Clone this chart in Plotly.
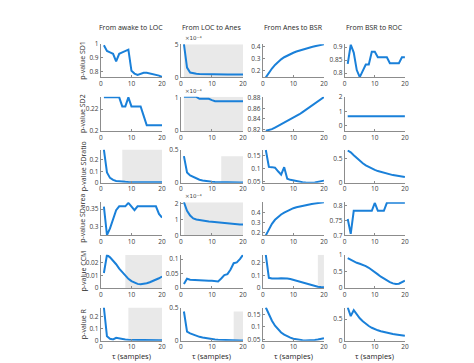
import plotly.graph_objects as go
from plotly.subplots import make_subplots

tau = list(range(1, 21))
x_ticks = [0, 10, 20]

col_titles = ["From awake to LOC", "From LOC to Anes", "From Anes to BSR", "From BSR to ROC"]
row_labels = ["p-value SD1", "p-value SD2", "p-value SDratio", "p-value SDarea", "p-value CCM", "p-value R"]
x_label = "τ (samples)"
exp_label = "×10⁻⁴"

# Row 1: SD1  (LOC->Anes values in units of 1e-4)
sd1_awake_loc = [0.993, 0.95, 0.94, 0.93, 0.875, 0.93, 0.94, 0.95, 0.96, 0.805, 0.785, 0.775, 0.785, 0.79, 0.79, 0.785, 0.78, 0.78, 0.77, 0.76]
sd1_loc_anes_e4 = [5.1, 1.5, 0.75, 0.6, 0.55, 0.52, 0.5, 0.48, 0.47, 0.46, 0.45, 0.44, 0.44, 0.44, 0.44, 0.45, 0.45, 0.45, 0.46, 0.46]
sd1_anes_bsr = [0.14, 0.18, 0.215, 0.245, 0.27, 0.292, 0.31, 0.325, 0.337, 0.348, 0.358, 0.367, 0.375, 0.383, 0.39, 0.397, 0.403, 0.409, 0.415, 0.42]
sd1_bsr_roc = [0.836, 0.909, 0.879, 0.812, 0.785, 0.806, 0.833, 0.833, 0.882, 0.882, 0.861, 0.861, 0.861, 0.861, 0.838, 0.838, 0.838, 0.838, 0.861, 0.861]

# Row 2: SD2
sd2_awake_loc = [0.2308, 0.2308, 0.2308, 0.2308, 0.2308, 0.2308, 0.2225, 0.2225, 0.2308, 0.2225, 0.2225, 0.2225, 0.2225, 0.2138, 0.2052, 0.2052, 0.2052, 0.2052, 0.2052, 0.2052]
sd2_loc_anes_e4 = [1.03, 1.03, 1.03, 1.03, 1.03, 0.97, 0.97, 0.97, 0.97, 0.93, 0.9, 0.9, 0.9, 0.9, 0.9, 0.9, 0.9, 0.9, 0.9, 0.9]
sd2_anes_bsr = [0.818, 0.819, 0.821, 0.824, 0.827, 0.83, 0.833, 0.836, 0.839, 0.842, 0.845, 0.849, 0.853, 0.857, 0.861, 0.865, 0.869, 0.873, 0.877, 0.881]
sd2_bsr_roc = [0.667] * 20

# Row 3: SDratio
sdratio_awake_loc = [0.29, 0.09, 0.042, 0.024, 0.015, 0.011, 0.009, 0.008, 0.007, 0.006, 0.006, 0.005, 0.005, 0.005, 0.005, 0.004, 0.004, 0.004, 0.004, 0.004]
sdratio_loc_anes = [0.40, 0.155, 0.11, 0.085, 0.062, 0.045, 0.033, 0.024, 0.018, 0.013, 0.01, 0.008, 0.006, 0.005, 0.004, 0.004, 0.003, 0.003, 0.003, 0.003]
sdratio_anes_bsr = [0.172, 0.107, 0.106, 0.104, 0.09, 0.077, 0.106, 0.061, 0.057, 0.054, 0.051, 0.049, 0.048, 0.047, 0.046, 0.046, 0.047, 0.049, 0.051, 0.054]
sdratio_bsr_roc = [0.68, 0.64, 0.58, 0.52, 0.46, 0.41, 0.365, 0.33, 0.30, 0.27, 0.245, 0.225, 0.205, 0.19, 0.175, 0.16, 0.15, 0.14, 0.13, 0.12]

# Row 4: SDarea  (LOC->Anes values in units of 1e-4)
sdarea_awake_loc = [0.357, 0.275, 0.294, 0.324, 0.347, 0.358, 0.358, 0.358, 0.368, 0.358, 0.347, 0.358, 0.358, 0.358, 0.358, 0.358, 0.358, 0.358, 0.336, 0.325]
sdarea_loc_anes_e4 = [2.1, 1.55, 1.25, 1.07, 1.0, 0.96, 0.92, 0.89, 0.87, 0.86, 0.84, 0.82, 0.79, 0.76, 0.73, 0.71, 0.7, 0.69, 0.69, 0.69]
sdarea_anes_bsr = [0.17, 0.235, 0.285, 0.325, 0.355, 0.378, 0.397, 0.413, 0.428, 0.44, 0.45, 0.458, 0.465, 0.472, 0.478, 0.483, 0.488, 0.492, 0.496, 0.5]
sdarea_bsr_roc = [0.755, 0.705, 0.783, 0.783, 0.783, 0.783, 0.783, 0.783, 0.783, 0.81, 0.783, 0.783, 0.783, 0.81, 0.81, 0.81, 0.81, 0.81, 0.81, 0.81]

# Row 5: CCM
ccm_awake_loc = [0.012, 0.0264, 0.0245, 0.022, 0.019, 0.0155, 0.0125, 0.0097, 0.0073, 0.0055, 0.0041, 0.0033, 0.003, 0.0032, 0.0038, 0.0046, 0.0055, 0.0066, 0.0078, 0.0092]
ccm_loc_anes = [0.0135, 0.032, 0.029, 0.028, 0.028, 0.027, 0.027, 0.026, 0.025, 0.025, 0.023, 0.023, 0.033, 0.045, 0.048, 0.064, 0.086, 0.089, 0.1, 0.115]
ccm_anes_bsr = [0.26, 0.08, 0.075, 0.073, 0.074, 0.076, 0.077, 0.075, 0.07, 0.063, 0.056, 0.05, 0.048, 0.04, 0.03, 0.022, 0.015, 0.01, 0.007, 0.006]
ccm_bsr_roc = [0.9, 0.85, 0.8, 0.76, 0.73, 0.7, 0.66, 0.61, 0.55, 0.48, 0.41, 0.34, 0.28, 0.23, 0.18, 0.14, 0.12, 0.13, 0.17, 0.22]

# Row 6: R
r_awake_loc = [0.28, 0.037, 0.016, 0.011, 0.024, 0.017, 0.012, 0.009, 0.007, 0.006, 0.005, 0.005, 0.004, 0.004, 0.004, 0.003, 0.003, 0.003, 0.003, 0.003]
r_loc_anes = [0.44, 0.135, 0.11, 0.09, 0.072, 0.058, 0.047, 0.038, 0.03, 0.023, 0.018, 0.014, 0.011, 0.009, 0.007, 0.006, 0.005, 0.005, 0.004, 0.004]
r_anes_bsr = [0.178, 0.15, 0.125, 0.105, 0.09, 0.078, 0.069, 0.062, 0.057, 0.053, 0.05, 0.048, 0.047, 0.046, 0.046, 0.047, 0.048, 0.05, 0.052, 0.055]
r_bsr_roc = [0.77, 0.57, 0.71, 0.6, 0.52, 0.45, 0.39, 0.34, 0.3, 0.265, 0.24, 0.22, 0.2, 0.185, 0.17, 0.155, 0.145, 0.135, 0.125, 0.115]

series = [
    [sd1_awake_loc, sd1_loc_anes_e4, sd1_anes_bsr, sd1_bsr_roc],
    [sd2_awake_loc, sd2_loc_anes_e4, sd2_anes_bsr, sd2_bsr_roc],
    [sdratio_awake_loc, sdratio_loc_anes, sdratio_anes_bsr, sdratio_bsr_roc],
    [sdarea_awake_loc, sdarea_loc_anes_e4, sdarea_anes_bsr, sdarea_bsr_roc],
    [ccm_awake_loc, ccm_loc_anes, ccm_anes_bsr, ccm_bsr_roc],
    [r_awake_loc, r_loc_anes, r_anes_bsr, r_bsr_roc],
]

y_ranges = [
    [[0.757, 1.0], [0, 5.1], [0.14, 0.42], [0.784, 0.911]],
    [[0.2, 0.2312], [0, 1.03], [0.8175, 0.8815], [-0.35, 2]],
    [[0, 0.29], [0, 0.5], [0.046, 0.174], [0, 0.7]],
    [[0.274, 0.37], [0, 2.1], [0.17, 0.5], [0.7, 0.812]],
    [[0, 0.0265], [0, 0.115], [0, 0.26], [0, 1.0]],
    [[0, 0.28], [0, 0.5], [0.045, 0.178], [0, 0.77]],
]
y_ticks = [
    [[0.8, 0.9, 1], [0, 5], [0.2, 0.3, 0.4], [0.8, 0.85, 0.9]],
    [[0.2, 0.22], [0, 1], [0.82, 0.84, 0.86, 0.88], [0, 1, 2]],
    [[0, 0.1, 0.2], [0, 0.5], [0.05, 0.1, 0.15], [0, 0.5]],
    [[0.3, 0.35], [0, 1, 2], [0.2, 0.3, 0.4], [0.7, 0.75, 0.8]],
    [[0, 0.01, 0.02], [0, 0.05, 0.1], [0, 0.1, 0.2], [0, 0.5, 1]],
    [[0, 0.1, 0.2], [0, 0.5], [0.05, 0.1, 0.15], [0, 0.5]],
]
# start of the shaded tau interval (None = no shading)
shade_start = [
    [None, 1, None, None],
    [None, 1, None, None],
    [7, 13, None, None],
    [None, 1, None, None],
    [8, None, 18, None],
    [9, 17, None, None],
]
exp_marks = [(0, 1), (1, 1), (3, 1)]

W, H = 474, 363
col_px = [(92, 154), (173, 236), (256, 318), (339, 400)]
row_px = [(32, 66), (86, 121), (140, 174), (194, 228), (248, 282), (302, 336)]

FONT = "Open Sans"
AX = "#8c8c8c"
TXT = "#404040"
BLUE = "#1a80d9"
SHADE = "#e9e9e9"

fig = make_subplots(rows=6, cols=4)

for r in range(6):
    for c in range(4):
        idx = r * 4 + c + 1
        vals = series[r][c]
        fig.add_trace(go.Scatter(x=tau, y=vals, mode="lines",
                                 line=dict(color=BLUE, width=2), showlegend=False),
                      row=r + 1, col=c + 1)
        xs = "" if idx == 1 else str(idx)
        if shade_start[r][c] is not None:
            fig.add_shape(type="rect", xref="x" + xs, yref="y" + xs,
                          x0=shade_start[r][c], x1=tau[-1], y0=0, y1=max(vals),
                          fillcolor=SHADE, line=dict(width=0), layer="below")
        x0, x1 = col_px[c]
        t, b = row_px[r]
        fig.layout["xaxis" + xs].update(
            domain=[x0 / W, x1 / W], range=[0, 20], tickvals=x_ticks,
            showline=True, linecolor=AX, linewidth=1, ticks="inside", ticklen=2,
            tickcolor=AX, showgrid=False, zeroline=False,
            tickfont=dict(family=FONT, size=6.5, color=TXT))
        fig.layout["yaxis" + xs].update(
            domain=[1 - b / H, 1 - t / H], range=y_ranges[r][c], tickvals=y_ticks[r][c],
            showline=True, linecolor=AX, linewidth=1, ticks="inside", ticklen=2,
            tickcolor=AX, showgrid=False, zeroline=False,
            tickfont=dict(family=FONT, size=6.5, color=TXT))

annotations = []
for c, title in enumerate(col_titles):
    cx = (col_px[c][0] + col_px[c][1]) / 2
    annotations.append(dict(text=title, x=cx / W, y=1 - 15 / H, xref="paper", yref="paper",
                            showarrow=False, font=dict(family=FONT, size=7, color="#262626"),
                            xanchor="center", yanchor="middle"))
    annotations.append(dict(text=x_label, x=cx / W, y=1 - 352 / H, xref="paper", yref="paper",
                            showarrow=False, font=dict(family=FONT, size=7.5, color="#262626"),
                            xanchor="center", yanchor="middle"))
for r, lab in enumerate(row_labels):
    cy = (row_px[r][0] + row_px[r][1]) / 2
    annotations.append(dict(text=lab, x=74 / W, y=1 - cy / H, xref="paper", yref="paper",
                            showarrow=False, textangle=-90,
                            font=dict(family=FONT, size=7, color="#262626"),
                            xanchor="center", yanchor="middle"))
for r, c in exp_marks:
    annotations.append(dict(text=exp_label, x=(col_px[c][0] + 2) / W,
                            y=1 - (row_px[r][0] - 1) / H, xref="paper", yref="paper",
                            showarrow=False, font=dict(family="DejaVu Sans", size=5.5, color=TXT),
                            xanchor="left", yanchor="bottom"))

fig.update_layout(width=W, height=H, autosize=False, margin=dict(l=0, r=0, t=0, b=0),
                  paper_bgcolor="white", plot_bgcolor="white", annotations=annotations)

fig.write_html("out.html")
